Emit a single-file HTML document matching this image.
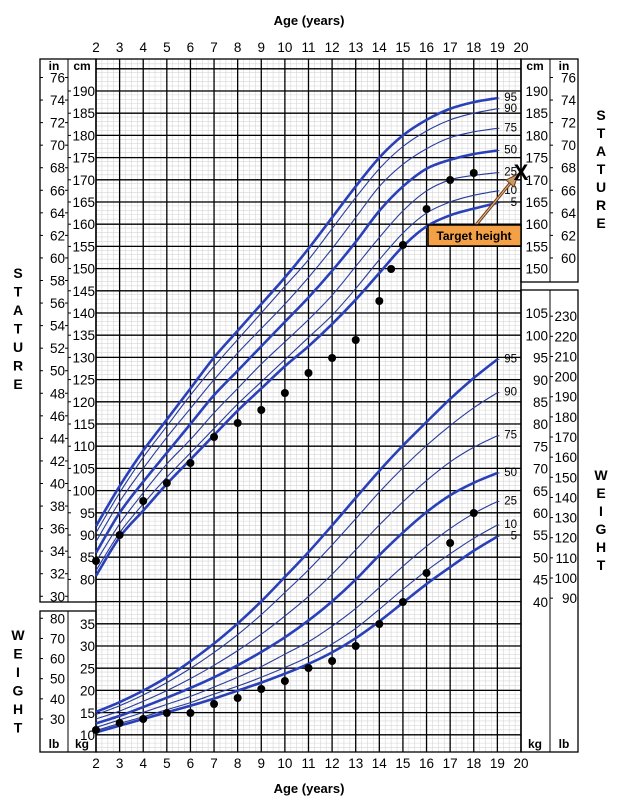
<!DOCTYPE html><html><head><meta charset="utf-8"><style>
body{margin:0;background:#fff;width:618px;height:811px;overflow:hidden}
svg{display:block;font-family:"Liberation Sans",sans-serif}
</style></head><body>
<svg id="s" width="618" height="811" xmlns="http://www.w3.org/2000/svg"></svg>
<script>
const S=document.getElementById('s');let h='';
const X=a=>96+(a-2)*23.61;
const YC=c=>91+(190-c)*4.44;
const YK=k=>735-(k-10)*4.44;
for(let i=0;i<=72;i++){const x=96+i*425/72;h+=`<line x1="${x}" y1="59" x2="${x}" y2="752" stroke="#d6d6d6" stroke-width="0.6"/>`;}
for(let y=752;y>=59;y-=4.44){h+=`<line x1="96" y1="${y}" x2="521" y2="${y}" stroke="#d6d6d6" stroke-width="0.6"/>`;}
for(let a=2;a<=20;a++)h+=`<line x1="${X(a)}" y1="59" x2="${X(a)}" y2="752" stroke="#000" stroke-width="1.3"/>`;
for(let k=0;k<=30;k++){const y=91+k*22.2-22.2;if(y>=59&&y<=752)h+=`<line x1="96" y1="${y}" x2="521" y2="${y}" stroke="#000" stroke-width="1.3"/>`;}
const R=(x,y,w,hh)=>`<rect x="${x}" y="${y}" width="${w}" height="${hh}" fill="none" stroke="#000" stroke-width="1.3"/>`;
h+=R(40,59,56,543)+`<line x1="68" y1="59" x2="68" y2="602" stroke="#000"/>`;
h+=R(40,611,56,141)+`<line x1="68" y1="611" x2="68" y2="752" stroke="#000"/>`;
h+=R(521,59,57,223)+`<line x1="550" y1="59" x2="550" y2="282" stroke="#000"/>`;
h+=R(521,290,57,462)+`<line x1="550" y1="290" x2="550" y2="752" stroke="#000"/>`;
h+=R(96,59,425,693);
const T=(x,y,t,sz=12,an='middle',fw='normal')=>`<text x="${x}" y="${y}" font-size="${sz}" text-anchor="${an}" font-weight="${fw}">${t}</text>`;
const F=13.5;
for(let a=2;a<=20;a++){h+=T(X(a),52,a,F);h+=T(X(a),768,a,F);}
h+=T(309,25,'Age (years)',13,'middle','bold')+T(309,793,'Age (years)',13,'middle','bold');
h+=T(54,70,'in',12,'middle','bold')+T(82,70,'cm',12,'middle','bold')+T(535,70,'cm',12,'middle','bold')+T(564,70,'in',12,'middle','bold');
h+=T(54,748,'lb',12,'middle','bold')+T(82,748,'kg',12,'middle','bold')+T(535,748,'kg',12,'middle','bold')+T(564,748,'lb',12,'middle','bold');
for(let c=80;c<=190;c+=5){const y=YC(c);h+=T(95,y+5,c,F,'end')+`<line x1="68" y1="${y}" x2="71" y2="${y}" stroke="#000"/>`;}
for(let i=30;i<=76;i+=2){const y=YC(i*2.54);h+=T(65,y+5,i,F,'end')+`<line x1="40" y1="${y}" x2="43" y2="${y}" stroke="#000"/><line x1="65" y1="${y}" x2="68" y2="${y}" stroke="#000"/>`;}
for(let c=150;c<=190;c+=5){const y=YC(c);h+=T(548,y+5,c,F,'end');}
for(let i=60;i<=76;i+=2){const y=YC(i*2.54);h+=T(576,y+5,i,F,'end')+`<line x1="550" y1="${y}" x2="553" y2="${y}" stroke="#000"/>`;}
for(let k=10;k<=35;k+=5){const y=YK(k);h+=T(95,y+5,k,F,'end');}
for(let l=30;l<=80;l+=10){const y=YK(l*0.4536);h+=T(65,y+5,l,F,'end')+`<line x1="40" y1="${y}" x2="43" y2="${y}" stroke="#000"/>`;}
for(let k=40;k<=105;k+=5){const y=YK(k);h+=T(548,y+5,k,F,'end');}
for(let l=90;l<=230;l+=10){const y=YK(l*0.4536);h+=T(577,y+5,l,F,'end')+`<line x1="550" y1="${y}" x2="553" y2="${y}" stroke="#000"/>`;}
const V=(x,y0,w,dy)=>{let s='';[...w].forEach((c,i)=>s+=T(x,y0+i*dy,c,14,'middle','bold'));return s;};
h+=V(18,278,'STATURE',18.5)+V(18,640,'WEIGHT',18.5)+V(601,120,'STATURE',18)+V(601,480,'WEIGHT',18);
function path(pts){let d=`M${pts[0][0]},${pts[0][1]}`;for(let i=0;i<pts.length-1;i++){const p0=pts[Math.max(i-1,0)],p1=pts[i],p2=pts[i+1],p3=pts[Math.min(i+2,pts.length-1)];d+=` C${p1[0]+(p2[0]-p0[0])/6},${p1[1]+(p2[1]-p0[1])/6} ${p2[0]-(p3[0]-p1[0])/6},${p2[1]-(p3[1]-p1[1])/6} ${p2[0]},${p2[1]}`;}return d;}
const st=[[80.8,89.5,95.5,101.5,107,112.5,118,123,128,132.5,137.5,143,149,155,159.5,162,163.5,164.8],
[82,90.5,97,103,108.5,114,119.5,124.5,129.5,134.5,139.5,145.5,152,158,162.5,165,166.5,167.5],
[84,92.5,99.5,106,111.5,117.5,123,128.5,133.5,138.5,144,150.5,157,163,167.5,170,171,171.6],
[86,95,102,108.5,115,121.5,127,132.5,138,143.5,149.5,156,163,168.5,172.5,174.5,175.8,176.6],
[88.5,97.5,105,112,118.5,125,131,136.5,142,148,154.5,161.5,168.5,173.5,177,179.5,180.8,181.6],
[90.5,99.5,107.5,114.5,121.5,128,134,140,146,152,159,166,172.5,177.5,181,183.5,185,186],
[92,101,109,116,123,130,136,142,148,154.5,161.5,168.5,175,180,183.5,186,187.5,188.4]];
const wt=[[10.6,12.1,13.6,15.1,16.6,18.2,20,21.8,23.8,26,28.6,31.8,35.6,39.8,44,47.8,51.5,54.7],
[11,12.6,14.1,15.7,17.3,19.2,21,23,25.2,27.6,30.5,34,38.3,42.8,47,50.8,54.3,57.3],
[11.7,13.4,15.1,16.9,18.7,20.8,23,25.4,28.2,31,34.5,38.5,43.2,48,52.5,56.5,59.9,62.6],
[12.6,14.3,16.3,18.4,20.6,23,25.7,28.7,32,35.8,40.1,45,50.5,55.6,60.2,64,66.8,69],
[13.6,15.4,17.6,20,22.7,25.7,29,32.7,36.8,41.2,46.2,51.7,57.3,62.5,67.3,71.5,74.8,77.4],
[14.6,16.6,19,21.8,25,28.6,32.6,37.1,42.1,47.2,52.8,58.7,64.7,70.2,75.2,79.7,83.7,87.1],
[15.2,17.4,20,23,26.6,30.6,35.1,40.1,45.6,51.2,57.2,63.4,69.5,75.2,80.5,85.7,90.4,94.6]];
const labs=[5,10,25,50,75,90,95];
const thick=[1,0,0,1,0,0,1];
function draw(set,Y){set.forEach((r,j)=>{const pts=r.map((v,i)=>[X(2+i),Y(v)]);h+=`<path d="${path(pts)}" fill="none" stroke="${thick[j]?'#2a40b8':'#2a3c9a'}" stroke-width="${thick[j]?2.6:1.1}"/>`;const e=pts[pts.length-1];h+=`<line x1="${e[0]}" y1="${e[1]}" x2="${e[0]+2}" y2="${e[1]}" stroke="#2a3c9a"/>`+T(517,e[1]+3,labs[j],11.5,'end');});}
draw(st,YC);draw(wt,YK);
const hd=[[2,561],[3,535],[4,501],[5,483],[6,463],[7,437],[8,423],[9,410],[10,393],[11,373],[12,358],[13,340],[14,301],[14.5,269],[15,245],[16,209],[17,180],[18,173]];
const wd=[[2,730],[3,723],[4,719],[5,713],[6,713],[7,704],[8,698],[9,689],[10,681],[11,668],[12,661],[13,646],[14,624],[15,602],[16,573],[17,543],[18,513]];
[...hd,...wd].forEach(p=>h+=`<circle cx="${X(p[0])}" cy="${p[1]}" r="4" fill="#000"/>`);
h+=`<line x1="476" y1="225" x2="512" y2="181" stroke="#6b3b1a" stroke-width="3"/><line x1="476" y1="225" x2="512" y2="181" stroke="#e8b888" stroke-width="1"/><polygon points="518,174 506,180 514,187" fill="#c89868" stroke="#6b3b1a"/>`;
h+=`<rect x="428" y="225" width="93" height="21" fill="#f4a046" stroke="#000" stroke-width="1.5"/>`+T(474,240,'Target height',12,'middle','bold');
h+=T(521,180,'X',22,'middle','bold');
S.innerHTML=h;
</script></body></html>
